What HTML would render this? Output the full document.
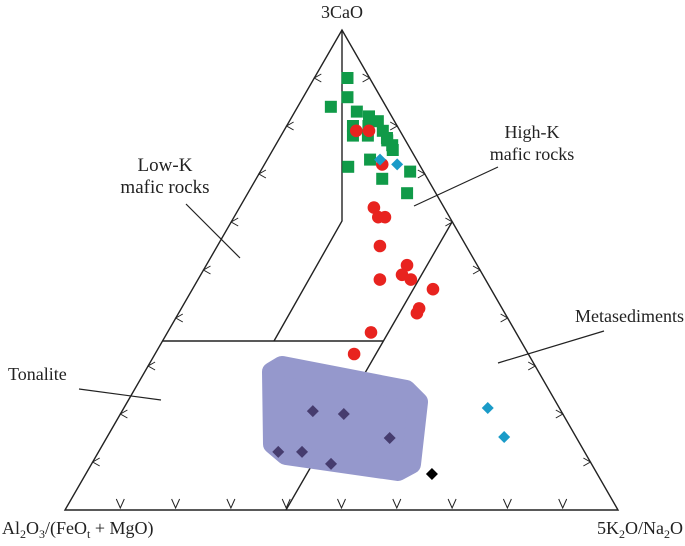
<!DOCTYPE html>
<html><head><meta charset="utf-8"><style>
html,body{margin:0;padding:0;background:#fff;}
svg{display:block;}
text{font-family:"Liberation Serif",serif;fill:#222;}
</style></head><body>
<svg id="chart" width="685" height="546" viewBox="0 0 685 546" xmlns="http://www.w3.org/2000/svg">
<g id="frame" stroke="#222" stroke-width="1.4" fill="none">
  <polygon points="342,30 65,510 618,510"/>
  <polyline points="342,30 342,221 274,341"/>
  <line x1="162" y1="341" x2="383" y2="341"/>
  <line x1="452" y1="222" x2="286" y2="510"/>
</g>
<g id="ticks" stroke="#222" stroke-width="1" fill="none"></g>
<path d="M272,372 L282,366 L406,390 L418,402 L411,464 L398,471 L286,455 L273,444 Z" fill="#9598cc" stroke="#9598cc" stroke-width="20" stroke-linejoin="round"/>
<g id="marks"></g>
<g font-size="18">
  <text x="342" y="18" text-anchor="middle">3CaO</text>
  <text x="2" y="534">Al<tspan font-size="12" dy="4">2</tspan><tspan dy="-4">O</tspan><tspan font-size="12" dy="4">3</tspan><tspan dy="-4">/(FeO</tspan><tspan font-size="12" dy="4">t</tspan><tspan dy="-4"> + MgO)</tspan></text>
  <text x="683" y="534" text-anchor="end">5K<tspan font-size="12" dy="4">2</tspan><tspan dy="-4">O/Na</tspan><tspan font-size="12" dy="4">2</tspan><tspan dy="-4">O</tspan></text>
  <text x="165" y="171" text-anchor="middle" font-size="19">Low-K</text>
  <text x="165" y="193" text-anchor="middle" font-size="19">mafic rocks</text>
  <text x="532" y="138" text-anchor="middle">High-K</text>
  <text x="532" y="160" text-anchor="middle">mafic rocks</text>
  <text x="684" y="322" text-anchor="end">Metasediments</text>
  <text x="8" y="380">Tonalite</text>
</g>
<g stroke="#222" stroke-width="1.2">
  <line x1="186" y1="204" x2="240" y2="258"/>
  <line x1="414" y1="206" x2="498" y2="167"/>
  <line x1="498" y1="363" x2="604" y2="331"/>
  <line x1="79" y1="389" x2="161" y2="400"/>
</g>
</svg>
<script>
// ternary data: c = CaO fraction (apex), r = K2O fraction (right vertex)
const greenC = [0.90,0.86,0.84,0.83,0.82,0.81,0.80,0.78,0.78,0.79,0.775,0.76,0.75,0.73,0.715,0.705,0.69,0.66,0.80,0.77];
const greenR = [0.06,0.08,0.06,0.112,0.139,0.16,0.12,0.13,0.157,0.179,0.194,0.211,0.217,0.186,0.154,0.271,0.228,0.288,0.148,0.197];
const redC = [0.79,0.79,0.72,0.63,0.61,0.61,0.55,0.51,0.49,0.48,0.48,0.46,0.42,0.41,0.37,0.325];
const redR = [0.131,0.154,0.213,0.243,0.261,0.273,0.294,0.363,0.364,0.385,0.329,0.435,0.43,0.431,0.368,0.36];
const cyanC = [0.73,0.72,0.2125,0.152];
const cyanR = [0.204,0.24,0.658,0.718];
const purpleC = [0.206,0.2,0.15,0.121,0.121,0.096];
const purpleR = [0.345,0.404,0.512,0.325,0.368,0.433];
const blackC = [0.075];
const blackR = [0.626];

const NS = "http://www.w3.org/2000/svg";
const T = {x:342,y:30}, L = {x:65,y:510}, R = {x:618,y:510};
function px(c, r){ return L.x + c*(T.x-L.x) + r*(R.x-L.x); }
function py(c){ return L.y + c*(T.y-L.y); }

const tg = document.getElementById('ticks');
function chev(pts, name){
  const p = document.createElementNS(NS,'polyline');
  p.setAttribute('points', pts.map(q=>q.join(',')).join(' '));
  
  
  tg.appendChild(p);
}
for(let i=1;i<10;i++){
  const t=i/10;
  const bx = L.x + t*(R.x-L.x);
  chev([[bx-4,499],[bx,508],[bx+4,499]], 'bottom-tick');
  const lx = L.x + t*(T.x-L.x), ly = L.y + t*(T.y-L.y);
  chev([[lx+7,ly-4],[lx,ly],[lx+7,ly+4]], 'left-tick');
  const rx = R.x + t*(T.x-R.x), ry = R.y + t*(T.y-R.y);
  chev([[rx-7,ry-4],[rx,ry],[rx-7,ry+4]], 'right-tick');
}

const mg = document.getElementById('marks');
function square(c,r,name){
  const e=document.createElementNS(NS,'rect');
  const x=px(c,r), y=py(c);
  e.setAttribute('x',x-6); e.setAttribute('y',y-6);
  e.setAttribute('width',12); e.setAttribute('height',12);
  e.setAttribute('fill','#109a48');
  
  
  mg.appendChild(e);
}
function circle(c,r,name){
  const e=document.createElementNS(NS,'circle');
  e.setAttribute('cx',px(c,r)); e.setAttribute('cy',py(c)); e.setAttribute('r',6.3);
  e.setAttribute('fill','#e8231f');
  
  
  mg.appendChild(e);
}
function diamond(c,r,color,name){
  const e=document.createElementNS(NS,'polygon');
  const x=px(c,r), y=py(c), s=6;
  e.setAttribute('points',`${x},${y-s} ${x+s},${y} ${x},${y+s} ${x-s},${y}`);
  e.setAttribute('fill',color);
  
  
  mg.appendChild(e);
}
greenC.forEach((c,i)=>square(c,greenR[i],'green-square-point'));
redC.forEach((c,i)=>circle(c,redR[i],'red-circle-point'));
cyanC.forEach((c,i)=>diamond(c,cyanR[i],'#1a9bc8','cyan-diamond-point'));
purpleC.forEach((c,i)=>diamond(c,purpleR[i],'#463c6e','purple-diamond-point'));
blackC.forEach((c,i)=>diamond(c,blackR[i],'#000','black-diamond-point'));
</script>
</body></html>
